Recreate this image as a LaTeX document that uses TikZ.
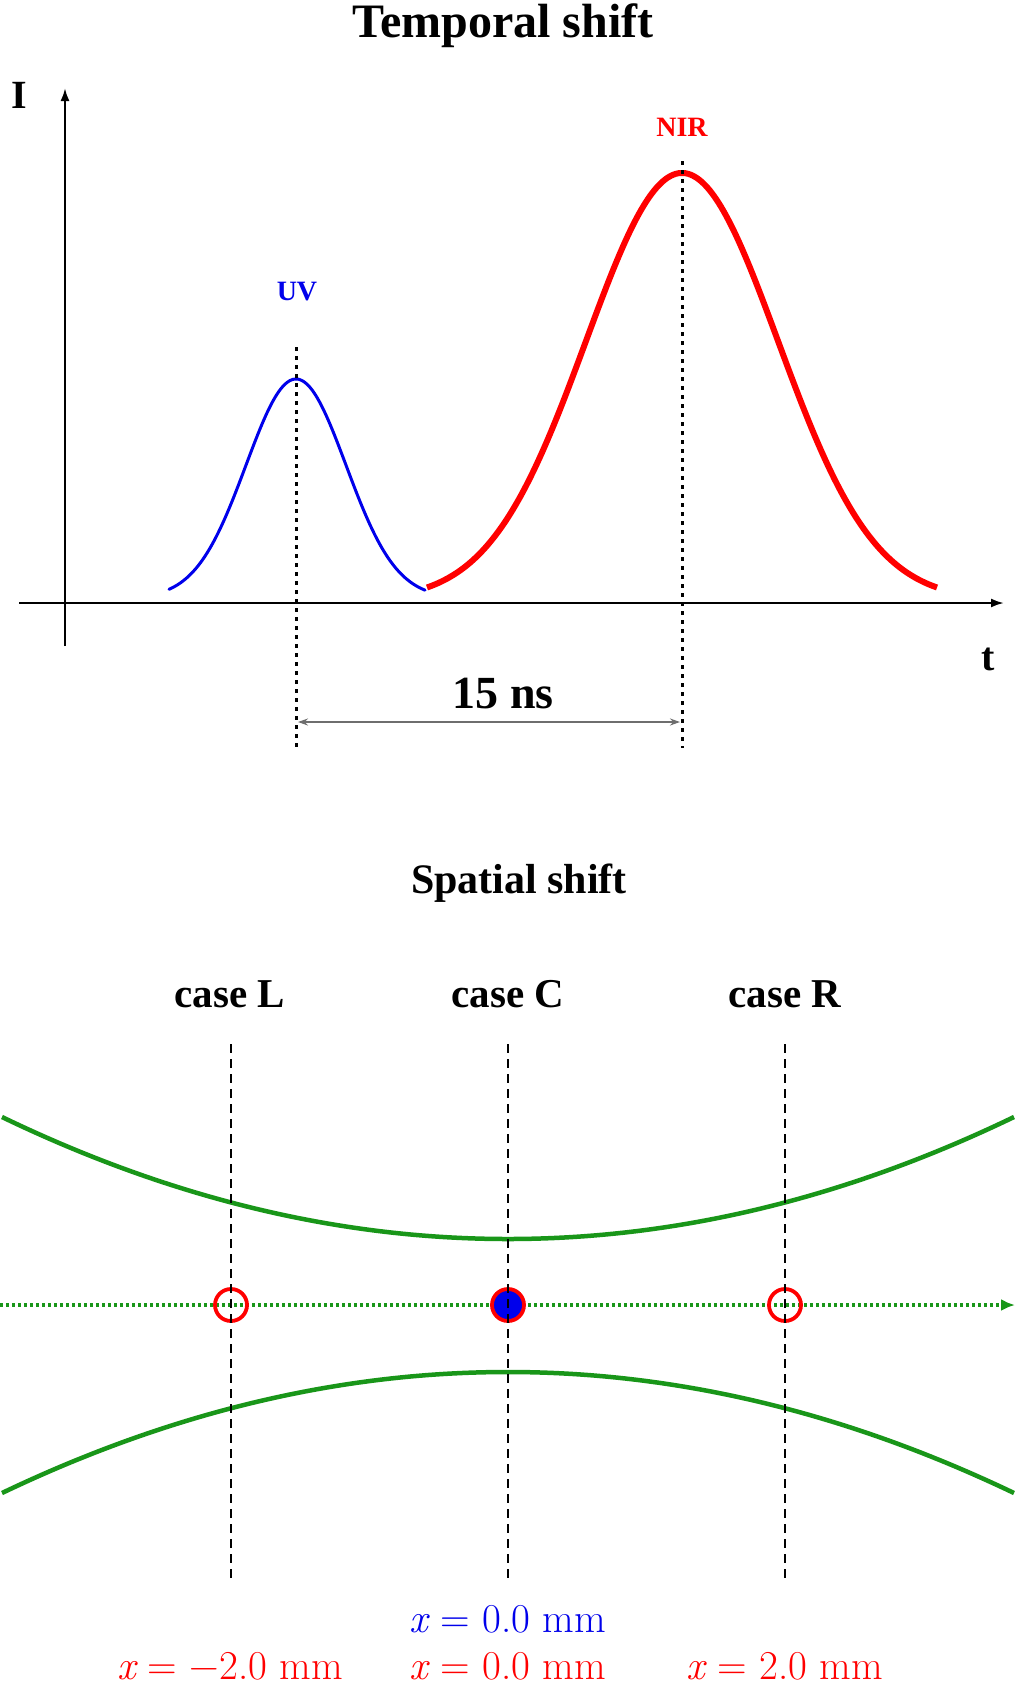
\documentclass[tikz,border=0pt]{standalone}
\usepackage[no-math]{fontspec}
\newfontfamily\tnr{Liberation Serif}
\usetikzlibrary{arrows.meta}
\definecolor{beamgreen}{RGB}{25,150,25}
\definecolor{uvblue}{RGB}{0,0,235}
\definecolor{nirred}{RGB}{255,0,0}
\definecolor{arrgray}{RGB}{110,110,110}
\newcommand{\eqsp}{\hspace{0.3em}=\hspace{0.3em}}
\newcommand{\posx}{{\itshape x}}
\tikzset{
  bigtitle/.style={anchor=base, inner sep=0pt, font=\tnr\bfseries\fontsize{48}{52}\selectfont},
  midtitle/.style={anchor=base, inner sep=0pt, font=\tnr\bfseries\fontsize{42}{46}\selectfont},
  casetitle/.style={anchor=base, inner sep=0pt, font=\tnr\bfseries\fontsize{41}{45}\selectfont},
  nstitle/.style={anchor=base, inner sep=0pt, font=\tnr\bfseries\fontsize{46}{50}\selectfont},
  axlabel/.style={anchor=base, inner sep=0pt, font=\tnr\bfseries\fontsize{40}{44}\selectfont},
  pulselabel/.style={anchor=base, inner sep=0pt, font=\tnr\bfseries\fontsize{28}{30}\selectfont},
  poslabel/.style={anchor=base, inner sep=0pt, font=\fontsize{41}{45}\selectfont},
  axisline/.style={draw=black, line width=2.2pt, -{Latex[length=13pt,width=9pt]}},
  dotline/.style={draw=black, line width=3pt, dash pattern=on 4pt off 5pt},
  dashline/.style={draw=black, line width=2.8pt, dash pattern=on 9pt off 6pt},
  beamline/.style={draw=beamgreen, line width=4.5pt},
  beamaxis/.style={draw=beamgreen, line width=3.5pt, dash pattern=on 3pt off 3pt, -{Latex[length=14pt,width=12pt]}},
  spot/.style={circle, draw=nirred, line width=3.8pt, minimum size=32pt, inner sep=0pt},
}
\begin{document}
\begin{tikzpicture}[x=1pt,y=-1pt]
\fill[white] (0,0) rectangle (1025,1689);
\useasboundingbox (0,0) rectangle (1025,1689);

% ---------- Temporal shift ----------
\node[bigtitle] (ttemp) at (503,37) {Temporal shift};
\node[axlabel] (lI) at (19,108) {I};
\node[axlabel] (lt) at (988,670) {t};
\coordinate (ybot) at (65,646);
\coordinate (ytop) at (65,88);
\coordinate (xleft) at (19,603);
\coordinate (xright) at (1004,603);
\draw[axisline] (ybot) -- (ytop);
\draw[axisline] (xleft) -- (xright);

\draw[uvblue, line width=3pt, line cap=round]
  plot[domain=169:425, samples=90, smooth] (\x, {598-219*exp(-0.5*((\x-296)/50)^2)});
\draw[nirred, line width=6pt]
  plot[domain=427:937, samples=120, smooth] (\x, {600-427*exp(-0.5*((\x-682)/96)^2)});

\coordinate (uvtop) at (296,347);
\coordinate (uvbot) at (296,748);
\coordinate (nirtop) at (682,161);
\coordinate (nirbot) at (682,748);
\draw[dotline] (uvtop) -- (uvbot);
\draw[dotline] (nirtop) -- (nirbot);

\node[pulselabel, text=uvblue] (luv) at (297,300) {UV};
\node[pulselabel, text=nirred] (lnir) at (682,136) {NIR};

\coordinate (dl) at (298,722);
\coordinate (dr) at (680,722);
\draw[arrgray, line width=2pt, {Stealth[length=10pt,width=7pt]}-{Stealth[length=10pt,width=7pt]}] (dl) -- (dr);
\node[nstitle] (ldelay) at (503,708) {15 ns};

% ---------- Spatial shift ----------
\node[midtitle] (tspat) at (519,893) {Spatial shift};
\node[casetitle] (caseL) at (230,1007) {case L};
\node[casetitle] (caseC) at (508,1007) {case C};
\node[casetitle] (caseR) at (785,1007) {case R};

\draw[beamline] plot[domain=2:1014, samples=100, smooth] (\x, {1306-67-122*((\x-508)/506)^2});
\draw[beamline] plot[domain=2:1014, samples=100, smooth] (\x, {1306+66+121*((\x-508)/506)^2});

\coordinate (zleft) at (0,1305);
\coordinate (zright) at (1015,1305);
\draw[beamaxis] (zleft) -- (zright);

\node[spot] (sL) at (231,1305) {};
\node[spot, fill=uvblue] (sC) at (508,1305) {};
\node[spot] (sR) at (785,1305) {};

\coordinate (lLt) at (231,1044); \coordinate (lLb) at (231,1583);
\coordinate (lCt) at (508,1044); \coordinate (lCb) at (508,1583);
\coordinate (lRt) at (785,1044); \coordinate (lRb) at (785,1583);
\draw[dashline] (lLt) -- (lLb);
\draw[dashline] (lCt) -- (lCb);
\draw[dashline] (lRt) -- (lRb);

\node[poslabel, text=uvblue] (pblue) at (508,1632) {\posx\eqsp0.0 mm};
\node[poslabel, text=nirred] (pL) at (230,1679) {\posx\eqsp\char"2212 2.0 mm};
\node[poslabel, text=nirred] (pC) at (508,1679) {\posx\eqsp0.0 mm};
\node[poslabel, text=nirred] (pR) at (785,1679) {\posx\eqsp2.0 mm};
\end{tikzpicture}
\end{document}
